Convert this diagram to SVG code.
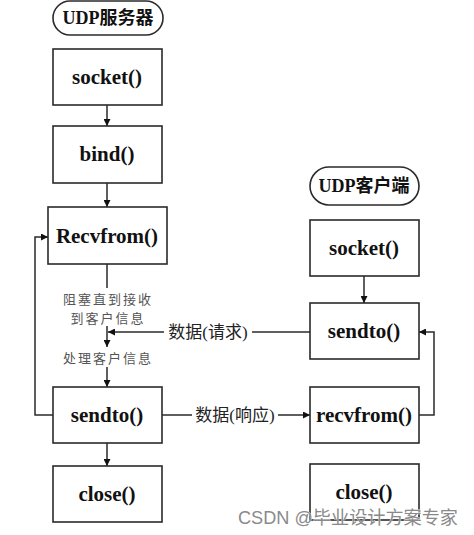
<svg xmlns="http://www.w3.org/2000/svg" width="474" height="535" viewBox="0 0 474 535">
<style>
.box{fill:#fff;stroke:#2a2a2a;stroke-width:1.6}
.t{font-family:"Liberation Serif","Noto Sans CJK SC",serif;font-weight:bold;font-size:21px;fill:#111;text-anchor:middle;dominant-baseline:central}
.h{font-size:18px}
.lbl{font-family:"Liberation Serif","Noto Sans CJK SC",serif;font-size:17px;fill:#222;text-anchor:middle;dominant-baseline:central}
.note{font-family:"Noto Sans CJK SC",sans-serif;font-size:13px;letter-spacing:2px;fill:#555;text-anchor:middle;dominant-baseline:central}
.ln{fill:none;stroke:#2a2a2a;stroke-width:1.5}
.wm{font-family:"Liberation Sans","Noto Sans CJK SC",sans-serif;font-size:18.5px;fill:#8a8a8a;stroke:#fff;stroke-width:0.6;paint-order:stroke}
</style>
<defs>
<marker id="ah" viewBox="0 0 10 10" refX="10" refY="5" markerWidth="7" markerHeight="7" markerUnits="userSpaceOnUse" orient="auto">
<path d="M0,0 L10,5 L0,10 z" fill="#111"/>
</marker>
</defs>
<rect width="474" height="535" fill="#fff"/>
<g id="connectors">
<path class="ln" d="M107,105 V126" marker-end="url(#ah)"/>
<path class="ln" d="M107,183 V207" marker-end="url(#ah)"/>
<path class="ln" d="M107,264 V288"/>
<path class="ln" d="M107,326 V347" marker-end="url(#ah)"/>
<path class="ln" d="M107,367 V387" marker-end="url(#ah)"/>
<path class="ln" d="M107,443 V466" marker-end="url(#ah)"/>
<path class="ln" d="M53,415 H35 V237 H48" marker-end="url(#ah)"/>
<path class="ln" d="M310,332 H252"/>
<path class="ln" d="M164,332 H108" marker-end="url(#ah)"/>
<path class="ln" d="M162,415 H192"/>
<path class="ln" d="M278,415 H310" marker-end="url(#ah)"/>
<path class="ln" d="M364,276 V303" marker-end="url(#ah)"/>
<path class="ln" d="M419,415 H434 V332 H419" marker-end="url(#ah)"/>
<text class="lbl" x="208" y="332">数据(请求)</text>
<text class="lbl" x="235" y="415">数据(响应)</text>
<text class="note" x="108" y="298">阻塞直到接收</text>
<text class="note" x="108" y="317">到客户信息</text>
<text class="note" x="108" y="357">处理客户信息</text>
</g>
<g id="server-title"><rect class="box" x="53" y="1" width="110" height="34" rx="17"/><text class="t h" x="108" y="18">UDP服务器</text></g>
<g id="server-socket"><rect class="box" x="53" y="49" width="109" height="56"/><text class="t" x="107" y="77">socket()</text></g>
<g id="server-bind"><rect class="box" x="53" y="126" width="109" height="57"/><text class="t" x="107" y="154">bind()</text></g>
<g id="server-recvfrom"><rect class="box" x="48" y="207" width="119" height="57"/><text class="t" x="107" y="236">Recvfrom()</text></g>
<g id="server-sendto"><rect class="box" x="53" y="387" width="109" height="56"/><text class="t" x="107" y="415">sendto()</text></g>
<g id="server-close"><rect class="box" x="53" y="466" width="109" height="56"/><text class="t" x="107" y="494">close()</text></g>
<g id="client-title"><rect class="box" x="310" y="167" width="109" height="38" rx="19"/><text class="t h" x="364" y="186">UDP客户端</text></g>
<g id="client-socket"><rect class="box" x="310" y="220" width="109" height="56"/><text class="t" x="364" y="248">socket()</text></g>
<g id="client-sendto"><rect class="box" x="310" y="303" width="109" height="56"/><text class="t" x="364" y="331">sendto()</text></g>
<g id="client-recvfrom"><rect class="box" x="310" y="387" width="109" height="56"/><text class="t" x="364" y="415">recvfrom()</text></g>
<g id="client-close"><rect class="box" x="310" y="464" width="109" height="56"/><text class="t" x="364" y="492">close()</text></g>
<text class="wm" x="238" y="524" textLength="220" lengthAdjust="spacingAndGlyphs">CSDN @毕业设计方案专家</text>
</svg>
